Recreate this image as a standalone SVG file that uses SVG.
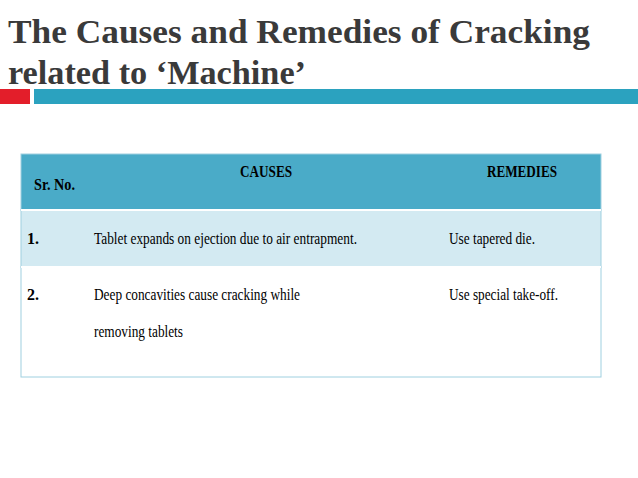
<svg xmlns="http://www.w3.org/2000/svg" width="638" height="478" viewBox="0 0 638 478">
<style>
.t{font-family:"Liberation Serif",serif;font-weight:bold;font-size:33px;fill:#3a3a3a}
.c{font-family:"Liberation Serif",serif;font-size:16px;fill:#000}
.b{font-weight:bold}
</style>
<rect width="638" height="478" fill="#fff"/>
<text class="t" x="8" y="43" textLength="582" lengthAdjust="spacingAndGlyphs">The Causes and Remedies of Cracking</text>
<text class="t" x="8" y="84" textLength="298" lengthAdjust="spacingAndGlyphs">related to ‘Machine’</text>
<rect x="0" y="89" width="30" height="15" fill="#e31e2a"/>
<rect x="34" y="89" width="604" height="15" fill="#2ba2bf"/>
<g id="table">
<rect x="21" y="154" width="580" height="56" fill="#4aabc8" stroke="#9fd0e0"/>
<rect x="21" y="210" width="580" height="57" fill="#d3eaf2" stroke="#9fd0e0"/>
<rect x="21" y="267" width="580" height="110" fill="#fff" stroke="#9fd0e0"/>
<line x1="21" y1="210" x2="601" y2="210" stroke="#fff" stroke-width="2"/>
<line x1="21" y1="267" x2="601" y2="267" stroke="#fff" stroke-width="2"/>
<text class="c b" x="34" y="190" textLength="41" lengthAdjust="spacingAndGlyphs">Sr. No.</text>
<text class="c b" x="240" y="177" textLength="52" lengthAdjust="spacingAndGlyphs">CAUSES</text>
<text class="c b" x="487" y="177" textLength="70" lengthAdjust="spacingAndGlyphs">REMEDIES</text>
<text class="c b" x="27" y="244">1.</text>
<text class="c" x="94" y="244" textLength="263" lengthAdjust="spacingAndGlyphs">Tablet expands on ejection due to air entrapment.</text>
<text class="c" x="449" y="244" textLength="86" lengthAdjust="spacingAndGlyphs">Use tapered die.</text>
<text class="c b" x="27" y="300">2.</text>
<text class="c" x="94" y="300" textLength="206" lengthAdjust="spacingAndGlyphs">Deep concavities cause cracking while</text>
<text class="c" x="94" y="337" textLength="89" lengthAdjust="spacingAndGlyphs">removing tablets</text>
<text class="c" x="449" y="300" textLength="109" lengthAdjust="spacingAndGlyphs">Use special take-off.</text>
</g>
</svg>
